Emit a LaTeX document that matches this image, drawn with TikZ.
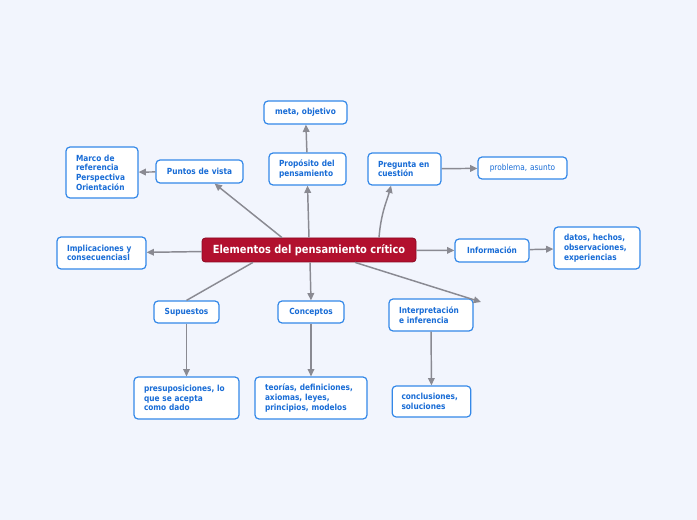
\documentclass[tikz,border=0pt]{standalone}
\usepackage{fontspec}
\setmainfont{DejaVu Sans}[FakeStretch=0.88]
\usetikzlibrary{arrows.meta}
\definecolor{bg}{RGB}{242,245,253}
\definecolor{bord}{RGB}{52,136,232}
\definecolor{txt}{RGB}{24,108,214}
\definecolor{edgec}{RGB}{138,138,146}
\definecolor{redfill}{RGB}{178,16,46}
\definecolor{redline}{RGB}{140,10,35}
\begin{document}
\begin{tikzpicture}[x=0.75pt,y=-0.75pt,
  bx/.style={draw=bord, line width=0.9pt, fill=white, rounded corners=3pt, text=txt,
    font=\fontsize{6.3pt}{7.3pt}\selectfont\bfseries, align=left, inner xsep=7.5pt, inner ysep=0pt},
  bxc/.style={bx, align=center},
  central/.style={draw=redline, line width=0.6pt, fill=redfill, rounded corners=2.5pt, text=white,
    font=\fontsize{8.4pt}{9pt}\selectfont\bfseries, minimum width=160.5pt, minimum height=18pt, inner sep=0pt},
  ed/.style={draw=edgec, line width=1.1pt, -{Triangle[length=5.5pt,width=5pt]}},
  el/.style={draw=edgec, line width=1.1pt}
]
\fill[bg] (0,0) rectangle (697,520);

\node[central] (c) at (309,250) {Elementos del pensamiento crítico};

\node[bxc, text width=47.25pt, minimum height=17.25pt] (meta) at (305.5,112.5) {meta, objetivo};
\node[bx, text width=42.75pt, minimum height=24pt] (prop) at (307.5,169) {Propósito del\\pensamiento};
\node[bxc, text width=50.25pt, minimum height=17.25pt] (pv) at (199.5,171.5) {Puntos de vista};
\node[bx, text width=39pt, minimum height=38.25pt] (marco) at (102,172.5) {Marco de\\referencia\\Perspectiva\\Orientación};
\node[bx, text width=39.75pt, minimum height=24pt] (preg) at (404.5,169) {Pregunta en\\cuestión};
\node[bxc, text width=51.75pt, minimum height=16.5pt, font=\fontsize{6.3pt}{7.3pt}\selectfont] (prob) at (522.5,168) {problema, asunto};
\node[bx, text width=51.75pt, minimum height=24pt] (impl) at (101.5,253) {Implicaciones y\\consecuenciasl};
\node[bxc, text width=40.5pt, minimum height=17.25pt] (info) at (492,250.5) {Información};
\node[bx, text width=49.5pt, minimum height=31.5pt] (datos) at (597,248) {datos, hechos,\\observaciones,\\experiencias};
\node[bxc, text width=33.75pt, minimum height=16.5pt] (sup) at (186.5,312) {Supuestos};
\node[bxc, text width=34.5pt, minimum height=16.5pt] (conc) at (311,312) {Conceptos};
\node[bx, text width=48pt, minimum height=24pt] (interp) at (431,315) {Interpretación\\e inferencia};
\node[bx, text width=63.75pt, minimum height=31.5pt] (presup) at (186.5,398) {presuposiciones, lo\\que se acepta\\como dado};
\node[bx, text width=69pt, minimum height=31.5pt] (teor) at (311,398) {teorías, definiciones,\\axiomas, leyes,\\principios, modelos};
\node[bx, text width=45pt, minimum height=23.25pt, inner xsep=7pt] (concl) at (431.5,401.5) {conclusiones,\\soluciones};
\coordinate (ie) at (481,302);

\draw[ed] ([xshift=-20.25pt]c.north) -- (pv);
\draw[ed] (c.north) -- (prop.south);
\draw[ed] (prop) -- (meta);
\draw[ed] (pv) -- (marco);
\draw[ed] ([xshift=52.5pt]c.north) .. controls +(2,-25) and +(-4,15) .. ([xshift=-10.1pt]preg.south);
\draw[ed] (preg) -- (prob);
\draw[ed] (c) -- (impl);
\draw[ed] (c) -- (info);
\draw[ed] (info) -- (datos);
\draw[el] ([xshift=-42pt]c.south) -- (sup.north);
\draw[ed] ([xshift=0.75pt]c.south) -- (conc.north);
\draw[ed] ([xshift=34.5pt]c.south) -- (ie);
\draw[ed] (sup) -- (presup);
\draw[ed] (conc) -- (teor);
\draw[ed] (interp) -- (concl);
\end{tikzpicture}
\end{document}
